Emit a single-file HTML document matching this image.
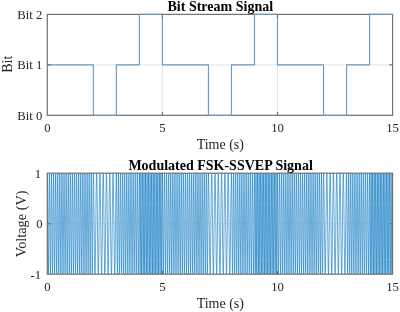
<!DOCTYPE html>
<html><head><meta charset="utf-8"><style>
html,body{margin:0;padding:0;background:#fff;}
body{width:400px;height:312px;position:relative;overflow:hidden;}
svg{position:absolute;left:0;top:0;display:block;}
</style></head><body>
<svg width="400" height="312" viewBox="0 0 400 312" font-family="Liberation Serif, serif">
<g>
<rect width="400" height="312" fill="#fff"/>
<line x1="162.40" y1="14.4" x2="162.40" y2="115.3" stroke="#e0e0e0" stroke-width="0.8"/>
<line x1="277.50" y1="14.4" x2="277.50" y2="115.3" stroke="#e0e0e0" stroke-width="0.8"/>
<line x1="47.3" y1="64.85" x2="392.6" y2="64.85" stroke="#e0e0e0" stroke-width="0.8"/>
<line x1="162.40" y1="173.2" x2="162.40" y2="274.2" stroke="#ececec" stroke-width="0.8"/>
<line x1="277.50" y1="173.2" x2="277.50" y2="274.2" stroke="#ececec" stroke-width="0.8"/>
<line x1="47.3" y1="223.70" x2="392.6" y2="223.70" stroke="#ececec" stroke-width="0.8"/>
<rect x="47.3" y="14.4" width="345.30" height="100.90" fill="none" stroke="#707070" stroke-width="1.2"/>
<path d="M47.30,64.85 L93.34,64.85 L93.34,115.30 L116.36,115.30 L116.36,64.85 L139.38,64.85 L139.38,14.40 L162.40,14.40 L162.40,64.85 L208.44,64.85 L208.44,115.30 L231.46,115.30 L231.46,64.85 L254.48,64.85 L254.48,14.40 L277.50,14.40 L277.50,64.85 L323.54,64.85 L323.54,115.30 L346.56,115.30 L346.56,64.85 L369.58,64.85 L369.58,14.40 L392.60,14.40" fill="none" stroke="#6c9ac4" stroke-width="1.15"/>
<path d="M47.30,173.20 47.40,175.28 47.49,181.35 47.59,190.90 47.68,203.16 47.78,217.11 47.88,231.60 47.97,245.44 48.07,257.49 48.16,266.76 48.26,272.48 48.36,274.18 48.45,271.73 48.55,265.32 48.64,255.48 48.74,243.03 48.83,228.98 48.93,214.50 49.03,200.77 49.12,188.94 49.22,179.97 49.31,174.60 49.41,173.27 49.51,176.10 49.60,182.84 49.70,192.96 49.79,205.60 49.89,219.74 49.99,234.20 50.08,247.80 50.18,259.41 50.27,268.08 50.37,273.10 50.47,274.04 50.56,270.85 50.66,263.76 50.75,253.38 50.85,240.56 50.94,226.34 51.04,211.91 51.14,198.45 51.23,187.07 51.33,178.70 51.42,174.05 51.52,173.48 51.62,177.04 51.71,184.45 51.81,195.10 51.90,208.09 52.00,222.38 52.10,236.77 52.19,250.09 52.29,261.23 52.38,269.28 52.48,273.58 52.58,273.77 52.67,269.83 52.77,262.10 52.86,251.20 52.96,238.04 53.05,223.70 53.15,209.36 53.25,196.20 53.34,185.30 53.44,177.57 53.53,173.63 53.63,173.82 53.73,178.12 53.82,186.17 53.92,197.31 54.01,210.63 54.11,225.02 54.21,239.31 54.30,252.30 54.40,262.95 54.49,270.36 54.59,273.92 54.69,273.35 54.78,268.70 54.88,260.33 54.97,248.95 55.07,235.49 55.17,221.06 55.26,206.84 55.36,194.02 55.45,183.64 55.55,176.55 55.64,173.36 55.74,174.30 55.84,179.32 55.93,187.99 56.03,199.60 56.12,213.20 56.22,227.66 56.32,241.80 56.41,254.44 56.51,264.56 56.60,271.30 56.70,274.13 56.80,272.80 56.89,267.43 56.99,258.46 57.08,246.63 57.18,232.90 57.28,218.42 57.37,204.37 57.47,191.92 57.56,182.08 57.66,175.67 57.75,173.22 57.85,174.92 57.95,180.64 58.04,189.91 58.14,201.96 58.23,215.80 58.33,230.29 58.43,244.24 58.52,256.50 58.62,266.05 58.71,272.12 58.81,274.20 58.91,272.12 59.00,266.05 59.10,256.50 59.19,244.24 59.29,230.29 59.39,215.80 59.48,201.96 59.58,189.91 59.67,180.64 59.77,174.92 59.87,173.22 59.96,175.67 60.06,182.08 60.15,191.92 60.25,204.37 60.34,218.42 60.44,232.90 60.54,246.63 60.63,258.46 60.73,267.43 60.82,272.80 60.92,274.13 61.02,271.30 61.11,264.56 61.21,254.44 61.30,241.80 61.40,227.66 61.50,213.20 61.59,199.60 61.69,187.99 61.78,179.32 61.88,174.30 61.98,173.36 62.07,176.55 62.17,183.64 62.26,194.02 62.36,206.84 62.45,221.06 62.55,235.49 62.65,248.95 62.74,260.33 62.84,268.70 62.93,273.35 63.03,273.92 63.13,270.36 63.22,262.95 63.32,252.30 63.41,239.31 63.51,225.02 63.61,210.63 63.70,197.31 63.80,186.17 63.89,178.12 63.99,173.82 64.09,173.63 64.18,177.57 64.28,185.30 64.37,196.20 64.47,209.36 64.56,223.70 64.66,238.04 64.76,251.20 64.85,262.10 64.95,269.83 65.04,273.77 65.14,273.58 65.24,269.28 65.33,261.23 65.43,250.09 65.52,236.77 65.62,222.38 65.72,208.09 65.81,195.10 65.91,184.45 66.00,177.04 66.10,173.48 66.20,174.05 66.29,178.70 66.39,187.07 66.48,198.45 66.58,211.91 66.68,226.34 66.77,240.56 66.87,253.38 66.96,263.76 67.06,270.85 67.15,274.04 67.25,273.10 67.35,268.08 67.44,259.41 67.54,247.80 67.63,234.20 67.73,219.74 67.83,205.60 67.92,192.96 68.02,182.84 68.11,176.10 68.21,173.27 68.31,174.60 68.40,179.97 68.50,188.94 68.59,200.77 68.69,214.50 68.79,228.98 68.88,243.03 68.98,255.48 69.07,265.32 69.17,271.73 69.26,274.18 69.36,272.48 69.46,266.76 69.55,257.49 69.65,245.44 69.74,231.60 69.84,217.11 69.94,203.16 70.03,190.90 70.13,181.35 70.22,175.28 70.32,173.20 70.42,175.28 70.51,181.35 70.61,190.90 70.70,203.16 70.80,217.11 70.90,231.60 70.99,245.44 71.09,257.49 71.18,266.76 71.28,272.48 71.38,274.18 71.47,271.73 71.57,265.32 71.66,255.48 71.76,243.03 71.85,228.98 71.95,214.50 72.05,200.77 72.14,188.94 72.24,179.97 72.33,174.60 72.43,173.27 72.53,176.10 72.62,182.84 72.72,192.96 72.81,205.60 72.91,219.74 73.01,234.20 73.10,247.80 73.20,259.41 73.29,268.08 73.39,273.10 73.49,274.04 73.58,270.85 73.68,263.76 73.77,253.38 73.87,240.56 73.96,226.34 74.06,211.91 74.16,198.45 74.25,187.07 74.35,178.70 74.44,174.05 74.54,173.48 74.64,177.04 74.73,184.45 74.83,195.10 74.92,208.09 75.02,222.38 75.12,236.77 75.21,250.09 75.31,261.23 75.40,269.28 75.50,273.58 75.60,273.77 75.69,269.83 75.79,262.10 75.88,251.20 75.98,238.04 76.07,223.70 76.17,209.36 76.27,196.20 76.36,185.30 76.46,177.57 76.55,173.63 76.65,173.82 76.75,178.12 76.84,186.17 76.94,197.31 77.03,210.63 77.13,225.02 77.23,239.31 77.32,252.30 77.42,262.95 77.51,270.36 77.61,273.92 77.71,273.35 77.80,268.70 77.90,260.33 77.99,248.95 78.09,235.49 78.19,221.06 78.28,206.84 78.38,194.02 78.47,183.64 78.57,176.55 78.66,173.36 78.76,174.30 78.86,179.32 78.95,187.99 79.05,199.60 79.14,213.20 79.24,227.66 79.34,241.80 79.43,254.44 79.53,264.56 79.62,271.30 79.72,274.13 79.82,272.80 79.91,267.43 80.01,258.46 80.10,246.63 80.20,232.90 80.30,218.42 80.39,204.37 80.49,191.92 80.58,182.08 80.68,175.67 80.77,173.22 80.87,174.92 80.97,180.64 81.06,189.91 81.16,201.96 81.25,215.80 81.35,230.29 81.45,244.24 81.54,256.50 81.64,266.05 81.73,272.12 81.83,274.20 81.93,272.12 82.02,266.05 82.12,256.50 82.21,244.24 82.31,230.29 82.41,215.80 82.50,201.96 82.60,189.91 82.69,180.64 82.79,174.92 82.89,173.22 82.98,175.67 83.08,182.08 83.17,191.92 83.27,204.37 83.36,218.42 83.46,232.90 83.56,246.63 83.65,258.46 83.75,267.43 83.84,272.80 83.94,274.13 84.04,271.30 84.13,264.56 84.23,254.44 84.32,241.80 84.42,227.66 84.52,213.20 84.61,199.60 84.71,187.99 84.80,179.32 84.90,174.30 85.00,173.36 85.09,176.55 85.19,183.64 85.28,194.02 85.38,206.84 85.47,221.06 85.57,235.49 85.67,248.95 85.76,260.33 85.86,268.70 85.95,273.35 86.05,273.92 86.15,270.36 86.24,262.95 86.34,252.30 86.43,239.31 86.53,225.02 86.63,210.63 86.72,197.31 86.82,186.17 86.91,178.12 87.01,173.82 87.11,173.63 87.20,177.57 87.30,185.30 87.39,196.20 87.49,209.36 87.58,223.70 87.68,238.04 87.78,251.20 87.87,262.10 87.97,269.83 88.06,273.77 88.16,273.58 88.26,269.28 88.35,261.23 88.45,250.09 88.54,236.77 88.64,222.38 88.74,208.09 88.83,195.10 88.93,184.45 89.02,177.04 89.12,173.48 89.22,174.05 89.31,178.70 89.41,187.07 89.50,198.45 89.60,211.91 89.70,226.34 89.79,240.56 89.89,253.38 89.98,263.76 90.08,270.85 90.17,274.04 90.27,273.10 90.37,268.08 90.46,259.41 90.56,247.80 90.65,234.20 90.75,219.74 90.85,205.60 90.94,192.96 91.04,182.84 91.13,176.10 91.23,173.27 91.33,174.60 91.42,179.97 91.52,188.94 91.61,200.77 91.71,214.50 91.81,228.98 91.90,243.03 92.00,255.48 92.09,265.32 92.19,271.73 92.28,274.18 92.38,272.48 92.48,266.76 92.57,257.49 92.67,245.44 92.76,231.60 92.86,217.11 92.96,203.16 93.05,190.90 93.15,181.35 93.24,175.28 93.34,173.20 93.44,174.05 93.53,176.55 93.63,180.64 93.72,186.17 93.82,192.96 93.92,200.77 94.01,209.36 94.11,218.42 94.20,227.66 94.30,236.77 94.40,245.44 94.49,253.38 94.59,260.33 94.68,266.05 94.78,270.36 94.87,273.10 94.97,274.18 95.07,273.58 95.16,271.30 95.26,267.43 95.35,262.10 95.45,255.48 95.55,247.80 95.64,239.31 95.74,230.29 95.83,221.06 95.93,211.91 96.03,203.16 96.12,195.10 96.22,187.99 96.31,182.08 96.41,177.57 96.51,174.60 96.60,173.27 96.70,173.63 96.79,175.67 96.89,179.32 96.98,184.45 97.08,190.90 97.18,198.45 97.27,206.84 97.37,215.80 97.46,225.02 97.56,234.20 97.66,243.03 97.75,251.20 97.85,258.46 97.94,264.56 98.04,269.28 98.14,272.48 98.23,274.04 98.33,273.92 98.42,272.12 98.52,268.70 98.62,263.76 98.71,257.49 98.81,250.09 98.90,241.80 99.00,232.90 99.09,223.70 99.19,214.50 99.29,205.60 99.38,197.31 99.48,189.91 99.57,183.64 99.67,178.70 99.77,175.28 99.86,173.48 99.96,173.36 100.05,174.92 100.15,178.12 100.25,182.84 100.34,188.94 100.44,196.20 100.53,204.37 100.63,213.20 100.73,222.38 100.82,231.60 100.92,240.56 101.01,248.95 101.11,256.50 101.21,262.95 101.30,268.08 101.40,271.73 101.49,273.77 101.59,274.13 101.68,272.80 101.78,269.83 101.88,265.32 101.97,259.41 102.07,252.30 102.16,244.24 102.26,235.49 102.36,226.34 102.45,217.11 102.55,208.09 102.64,199.60 102.74,191.92 102.84,185.30 102.93,179.97 103.03,176.10 103.12,173.82 103.22,173.22 103.32,174.30 103.41,177.04 103.51,181.35 103.60,187.07 103.70,194.02 103.79,201.96 103.89,210.63 103.99,219.74 104.08,228.98 104.18,238.04 104.27,246.63 104.37,254.44 104.47,261.23 104.56,266.76 104.66,270.85 104.75,273.35 104.85,274.20 104.95,273.35 105.04,270.85 105.14,266.76 105.23,261.23 105.33,254.44 105.43,246.63 105.52,238.04 105.62,228.98 105.71,219.74 105.81,210.63 105.91,201.96 106.00,194.02 106.10,187.07 106.19,181.35 106.29,177.04 106.38,174.30 106.48,173.22 106.58,173.82 106.67,176.10 106.77,179.97 106.86,185.30 106.96,191.92 107.06,199.60 107.15,208.09 107.25,217.11 107.34,226.34 107.44,235.49 107.54,244.24 107.63,252.30 107.73,259.41 107.82,265.32 107.92,269.83 108.02,272.80 108.11,274.13 108.21,273.77 108.30,271.73 108.40,268.08 108.49,262.95 108.59,256.50 108.69,248.95 108.78,240.56 108.88,231.60 108.97,222.38 109.07,213.20 109.17,204.37 109.26,196.20 109.36,188.94 109.45,182.84 109.55,178.12 109.65,174.92 109.74,173.36 109.84,173.48 109.93,175.28 110.03,178.70 110.13,183.64 110.22,189.91 110.32,197.31 110.41,205.60 110.51,214.50 110.60,223.70 110.70,232.90 110.80,241.80 110.89,250.09 110.99,257.49 111.08,263.76 111.18,268.70 111.28,272.12 111.37,273.92 111.47,274.04 111.56,272.48 111.66,269.28 111.76,264.56 111.85,258.46 111.95,251.20 112.04,243.03 112.14,234.20 112.24,225.02 112.33,215.80 112.43,206.84 112.52,198.45 112.62,190.90 112.72,184.45 112.81,179.32 112.91,175.67 113.00,173.63 113.10,173.27 113.19,174.60 113.29,177.57 113.39,182.08 113.48,187.99 113.58,195.10 113.67,203.16 113.77,211.91 113.87,221.06 113.96,230.29 114.06,239.31 114.15,247.80 114.25,255.48 114.35,262.10 114.44,267.43 114.54,271.30 114.63,273.58 114.73,274.18 114.83,273.10 114.92,270.36 115.02,266.05 115.11,260.33 115.21,253.38 115.30,245.44 115.40,236.77 115.50,227.66 115.59,218.42 115.69,209.36 115.78,200.77 115.88,192.96 115.98,186.17 116.07,180.64 116.17,176.55 116.26,174.05 116.36,173.20 116.46,175.28 116.55,181.35 116.65,190.90 116.74,203.16 116.84,217.11 116.94,231.60 117.03,245.44 117.13,257.49 117.22,266.76 117.32,272.48 117.42,274.18 117.51,271.73 117.61,265.32 117.70,255.48 117.80,243.03 117.89,228.98 117.99,214.50 118.09,200.77 118.18,188.94 118.28,179.97 118.37,174.60 118.47,173.27 118.57,176.10 118.66,182.84 118.76,192.96 118.85,205.60 118.95,219.74 119.05,234.20 119.14,247.80 119.24,259.41 119.33,268.08 119.43,273.10 119.53,274.04 119.62,270.85 119.72,263.76 119.81,253.38 119.91,240.56 120.00,226.34 120.10,211.91 120.20,198.45 120.29,187.07 120.39,178.70 120.48,174.05 120.58,173.48 120.68,177.04 120.77,184.45 120.87,195.10 120.96,208.09 121.06,222.38 121.16,236.77 121.25,250.09 121.35,261.23 121.44,269.28 121.54,273.58 121.64,273.77 121.73,269.83 121.83,262.10 121.92,251.20 122.02,238.04 122.12,223.70 122.21,209.36 122.31,196.20 122.40,185.30 122.50,177.57 122.59,173.63 122.69,173.82 122.79,178.12 122.88,186.17 122.98,197.31 123.07,210.63 123.17,225.02 123.27,239.31 123.36,252.30 123.46,262.95 123.55,270.36 123.65,273.92 123.75,273.35 123.84,268.70 123.94,260.33 124.03,248.95 124.13,235.49 124.23,221.06 124.32,206.84 124.42,194.02 124.51,183.64 124.61,176.55 124.70,173.36 124.80,174.30 124.90,179.32 124.99,187.99 125.09,199.60 125.18,213.20 125.28,227.66 125.38,241.80 125.47,254.44 125.57,264.56 125.66,271.30 125.76,274.13 125.86,272.80 125.95,267.43 126.05,258.46 126.14,246.63 126.24,232.90 126.34,218.42 126.43,204.37 126.53,191.92 126.62,182.08 126.72,175.67 126.81,173.22 126.91,174.92 127.01,180.64 127.10,189.91 127.20,201.96 127.29,215.80 127.39,230.29 127.49,244.24 127.58,256.50 127.68,266.05 127.77,272.12 127.87,274.20 127.97,272.12 128.06,266.05 128.16,256.50 128.25,244.24 128.35,230.29 128.45,215.80 128.54,201.96 128.64,189.91 128.73,180.64 128.83,174.92 128.93,173.22 129.02,175.67 129.12,182.08 129.21,191.92 129.31,204.37 129.40,218.42 129.50,232.90 129.60,246.63 129.69,258.46 129.79,267.43 129.88,272.80 129.98,274.13 130.08,271.30 130.17,264.56 130.27,254.44 130.36,241.80 130.46,227.66 130.56,213.20 130.65,199.60 130.75,187.99 130.84,179.32 130.94,174.30 131.04,173.36 131.13,176.55 131.23,183.64 131.32,194.02 131.42,206.84 131.51,221.06 131.61,235.49 131.71,248.95 131.80,260.33 131.90,268.70 131.99,273.35 132.09,273.92 132.19,270.36 132.28,262.95 132.38,252.30 132.47,239.31 132.57,225.02 132.67,210.63 132.76,197.31 132.86,186.17 132.95,178.12 133.05,173.82 133.15,173.63 133.24,177.57 133.34,185.30 133.43,196.20 133.53,209.36 133.62,223.70 133.72,238.04 133.82,251.20 133.91,262.10 134.01,269.83 134.10,273.77 134.20,273.58 134.30,269.28 134.39,261.23 134.49,250.09 134.58,236.77 134.68,222.38 134.78,208.09 134.87,195.10 134.97,184.45 135.06,177.04 135.16,173.48 135.26,174.05 135.35,178.70 135.45,187.07 135.54,198.45 135.64,211.91 135.74,226.34 135.83,240.56 135.93,253.38 136.02,263.76 136.12,270.85 136.21,274.04 136.31,273.10 136.41,268.08 136.50,259.41 136.60,247.80 136.69,234.20 136.79,219.74 136.89,205.60 136.98,192.96 137.08,182.84 137.17,176.10 137.27,173.27 137.37,174.60 137.46,179.97 137.56,188.94 137.65,200.77 137.75,214.50 137.85,228.98 137.94,243.03 138.04,255.48 138.13,265.32 138.23,271.73 138.32,274.18 138.42,272.48 138.52,266.76 138.61,257.49 138.71,245.44 138.80,231.60 138.90,217.11 139.00,203.16 139.09,190.90 139.19,181.35 139.28,175.28 139.38,173.20 139.48,177.04 139.57,187.99 139.67,204.37 139.76,223.70 139.86,243.03 139.96,259.41 140.05,270.36 140.15,274.20 140.24,270.36 140.34,259.41 140.44,243.03 140.53,223.70 140.63,204.37 140.72,187.99 140.82,177.04 140.91,173.20 141.01,177.04 141.11,187.99 141.20,204.37 141.30,223.70 141.39,243.03 141.49,259.41 141.59,270.36 141.68,274.20 141.78,270.36 141.87,259.41 141.97,243.03 142.07,223.70 142.16,204.37 142.26,187.99 142.35,177.04 142.45,173.20 142.55,177.04 142.64,187.99 142.74,204.37 142.83,223.70 142.93,243.03 143.02,259.41 143.12,270.36 143.22,274.20 143.31,270.36 143.41,259.41 143.50,243.03 143.60,223.70 143.70,204.37 143.79,187.99 143.89,177.04 143.98,173.20 144.08,177.04 144.18,187.99 144.27,204.37 144.37,223.70 144.46,243.03 144.56,259.41 144.66,270.36 144.75,274.20 144.85,270.36 144.94,259.41 145.04,243.03 145.13,223.70 145.23,204.37 145.33,187.99 145.42,177.04 145.52,173.20 145.61,177.04 145.71,187.99 145.81,204.37 145.90,223.70 146.00,243.03 146.09,259.41 146.19,270.36 146.29,274.20 146.38,270.36 146.48,259.41 146.57,243.03 146.67,223.70 146.77,204.37 146.86,187.99 146.96,177.04 147.05,173.20 147.15,177.04 147.25,187.99 147.34,204.37 147.44,223.70 147.53,243.03 147.63,259.41 147.72,270.36 147.82,274.20 147.92,270.36 148.01,259.41 148.11,243.03 148.20,223.70 148.30,204.37 148.40,187.99 148.49,177.04 148.59,173.20 148.68,177.04 148.78,187.99 148.88,204.37 148.97,223.70 149.07,243.03 149.16,259.41 149.26,270.36 149.36,274.20 149.45,270.36 149.55,259.41 149.64,243.03 149.74,223.70 149.83,204.37 149.93,187.99 150.03,177.04 150.12,173.20 150.22,177.04 150.31,187.99 150.41,204.37 150.51,223.70 150.60,243.03 150.70,259.41 150.79,270.36 150.89,274.20 150.99,270.36 151.08,259.41 151.18,243.03 151.27,223.70 151.37,204.37 151.47,187.99 151.56,177.04 151.66,173.20 151.75,177.04 151.85,187.99 151.95,204.37 152.04,223.70 152.14,243.03 152.23,259.41 152.33,270.36 152.42,274.20 152.52,270.36 152.62,259.41 152.71,243.03 152.81,223.70 152.90,204.37 153.00,187.99 153.10,177.04 153.19,173.20 153.29,177.04 153.38,187.99 153.48,204.37 153.58,223.70 153.67,243.03 153.77,259.41 153.86,270.36 153.96,274.20 154.06,270.36 154.15,259.41 154.25,243.03 154.34,223.70 154.44,204.37 154.53,187.99 154.63,177.04 154.73,173.20 154.82,177.04 154.92,187.99 155.01,204.37 155.11,223.70 155.21,243.03 155.30,259.41 155.40,270.36 155.49,274.20 155.59,270.36 155.69,259.41 155.78,243.03 155.88,223.70 155.97,204.37 156.07,187.99 156.17,177.04 156.26,173.20 156.36,177.04 156.45,187.99 156.55,204.37 156.64,223.70 156.74,243.03 156.84,259.41 156.93,270.36 157.03,274.20 157.12,270.36 157.22,259.41 157.32,243.03 157.41,223.70 157.51,204.37 157.60,187.99 157.70,177.04 157.80,173.20 157.89,177.04 157.99,187.99 158.08,204.37 158.18,223.70 158.28,243.03 158.37,259.41 158.47,270.36 158.56,274.20 158.66,270.36 158.76,259.41 158.85,243.03 158.95,223.70 159.04,204.37 159.14,187.99 159.23,177.04 159.33,173.20 159.43,177.04 159.52,187.99 159.62,204.37 159.71,223.70 159.81,243.03 159.91,259.41 160.00,270.36 160.10,274.20 160.19,270.36 160.29,259.41 160.39,243.03 160.48,223.70 160.58,204.37 160.67,187.99 160.77,177.04 160.87,173.20 160.96,177.04 161.06,187.99 161.15,204.37 161.25,223.70 161.34,243.03 161.44,259.41 161.54,270.36 161.63,274.20 161.73,270.36 161.82,259.41 161.92,243.03 162.02,223.70 162.11,204.37 162.21,187.99 162.30,177.04 162.40,173.20 162.50,175.28 162.59,181.35 162.69,190.90 162.78,203.16 162.88,217.11 162.98,231.60 163.07,245.44 163.17,257.49 163.26,266.76 163.36,272.48 163.46,274.18 163.55,271.73 163.65,265.32 163.74,255.48 163.84,243.03 163.93,228.98 164.03,214.50 164.13,200.77 164.22,188.94 164.32,179.97 164.41,174.60 164.51,173.27 164.61,176.10 164.70,182.84 164.80,192.96 164.89,205.60 164.99,219.74 165.09,234.20 165.18,247.80 165.28,259.41 165.37,268.08 165.47,273.10 165.57,274.04 165.66,270.85 165.76,263.76 165.85,253.38 165.95,240.56 166.04,226.34 166.14,211.91 166.24,198.45 166.33,187.07 166.43,178.70 166.52,174.05 166.62,173.48 166.72,177.04 166.81,184.45 166.91,195.10 167.00,208.09 167.10,222.38 167.20,236.77 167.29,250.09 167.39,261.23 167.48,269.28 167.58,273.58 167.68,273.77 167.77,269.83 167.87,262.10 167.96,251.20 168.06,238.04 168.16,223.70 168.25,209.36 168.35,196.20 168.44,185.30 168.54,177.57 168.63,173.63 168.73,173.82 168.83,178.12 168.92,186.17 169.02,197.31 169.11,210.63 169.21,225.02 169.31,239.31 169.40,252.30 169.50,262.95 169.59,270.36 169.69,273.92 169.79,273.35 169.88,268.70 169.98,260.33 170.07,248.95 170.17,235.49 170.27,221.06 170.36,206.84 170.46,194.02 170.55,183.64 170.65,176.55 170.74,173.36 170.84,174.30 170.94,179.32 171.03,187.99 171.13,199.60 171.22,213.20 171.32,227.66 171.42,241.80 171.51,254.44 171.61,264.56 171.70,271.30 171.80,274.13 171.90,272.80 171.99,267.43 172.09,258.46 172.18,246.63 172.28,232.90 172.38,218.42 172.47,204.37 172.57,191.92 172.66,182.08 172.76,175.67 172.85,173.22 172.95,174.92 173.05,180.64 173.14,189.91 173.24,201.96 173.33,215.80 173.43,230.29 173.53,244.24 173.62,256.50 173.72,266.05 173.81,272.12 173.91,274.20 174.01,272.12 174.10,266.05 174.20,256.50 174.29,244.24 174.39,230.29 174.49,215.80 174.58,201.96 174.68,189.91 174.77,180.64 174.87,174.92 174.97,173.22 175.06,175.67 175.16,182.08 175.25,191.92 175.35,204.37 175.44,218.42 175.54,232.90 175.64,246.63 175.73,258.46 175.83,267.43 175.92,272.80 176.02,274.13 176.12,271.30 176.21,264.56 176.31,254.44 176.40,241.80 176.50,227.66 176.60,213.20 176.69,199.60 176.79,187.99 176.88,179.32 176.98,174.30 177.08,173.36 177.17,176.55 177.27,183.64 177.36,194.02 177.46,206.84 177.55,221.06 177.65,235.49 177.75,248.95 177.84,260.33 177.94,268.70 178.03,273.35 178.13,273.92 178.23,270.36 178.32,262.95 178.42,252.30 178.51,239.31 178.61,225.02 178.71,210.63 178.80,197.31 178.90,186.17 178.99,178.12 179.09,173.82 179.19,173.63 179.28,177.57 179.38,185.30 179.47,196.20 179.57,209.36 179.67,223.70 179.76,238.04 179.86,251.20 179.95,262.10 180.05,269.83 180.14,273.77 180.24,273.58 180.34,269.28 180.43,261.23 180.53,250.09 180.62,236.77 180.72,222.38 180.82,208.09 180.91,195.10 181.01,184.45 181.10,177.04 181.20,173.48 181.30,174.05 181.39,178.70 181.49,187.07 181.58,198.45 181.68,211.91 181.78,226.34 181.87,240.56 181.97,253.38 182.06,263.76 182.16,270.85 182.25,274.04 182.35,273.10 182.45,268.08 182.54,259.41 182.64,247.80 182.73,234.20 182.83,219.74 182.93,205.60 183.02,192.96 183.12,182.84 183.21,176.10 183.31,173.27 183.41,174.60 183.50,179.97 183.60,188.94 183.69,200.77 183.79,214.50 183.89,228.98 183.98,243.03 184.08,255.48 184.17,265.32 184.27,271.73 184.36,274.18 184.46,272.48 184.56,266.76 184.65,257.49 184.75,245.44 184.84,231.60 184.94,217.11 185.04,203.16 185.13,190.90 185.23,181.35 185.32,175.28 185.42,173.20 185.52,175.28 185.61,181.35 185.71,190.90 185.80,203.16 185.90,217.11 186.00,231.60 186.09,245.44 186.19,257.49 186.28,266.76 186.38,272.48 186.48,274.18 186.57,271.73 186.67,265.32 186.76,255.48 186.86,243.03 186.95,228.98 187.05,214.50 187.15,200.77 187.24,188.94 187.34,179.97 187.43,174.60 187.53,173.27 187.63,176.10 187.72,182.84 187.82,192.96 187.91,205.60 188.01,219.74 188.11,234.20 188.20,247.80 188.30,259.41 188.39,268.08 188.49,273.10 188.59,274.04 188.68,270.85 188.78,263.76 188.87,253.38 188.97,240.56 189.06,226.34 189.16,211.91 189.26,198.45 189.35,187.07 189.45,178.70 189.54,174.05 189.64,173.48 189.74,177.04 189.83,184.45 189.93,195.10 190.02,208.09 190.12,222.38 190.22,236.77 190.31,250.09 190.41,261.23 190.50,269.28 190.60,273.58 190.70,273.77 190.79,269.83 190.89,262.10 190.98,251.20 191.08,238.04 191.18,223.70 191.27,209.36 191.37,196.20 191.46,185.30 191.56,177.57 191.65,173.63 191.75,173.82 191.85,178.12 191.94,186.17 192.04,197.31 192.13,210.63 192.23,225.02 192.33,239.31 192.42,252.30 192.52,262.95 192.61,270.36 192.71,273.92 192.81,273.35 192.90,268.70 193.00,260.33 193.09,248.95 193.19,235.49 193.29,221.06 193.38,206.84 193.48,194.02 193.57,183.64 193.67,176.55 193.76,173.36 193.86,174.30 193.96,179.32 194.05,187.99 194.15,199.60 194.24,213.20 194.34,227.66 194.44,241.80 194.53,254.44 194.63,264.56 194.72,271.30 194.82,274.13 194.92,272.80 195.01,267.43 195.11,258.46 195.20,246.63 195.30,232.90 195.40,218.42 195.49,204.37 195.59,191.92 195.68,182.08 195.78,175.67 195.87,173.22 195.97,174.92 196.07,180.64 196.16,189.91 196.26,201.96 196.35,215.80 196.45,230.29 196.55,244.24 196.64,256.50 196.74,266.05 196.83,272.12 196.93,274.20 197.03,272.12 197.12,266.05 197.22,256.50 197.31,244.24 197.41,230.29 197.51,215.80 197.60,201.96 197.70,189.91 197.79,180.64 197.89,174.92 197.99,173.22 198.08,175.67 198.18,182.08 198.27,191.92 198.37,204.37 198.46,218.42 198.56,232.90 198.66,246.63 198.75,258.46 198.85,267.43 198.94,272.80 199.04,274.13 199.14,271.30 199.23,264.56 199.33,254.44 199.42,241.80 199.52,227.66 199.62,213.20 199.71,199.60 199.81,187.99 199.90,179.32 200.00,174.30 200.10,173.36 200.19,176.55 200.29,183.64 200.38,194.02 200.48,206.84 200.57,221.06 200.67,235.49 200.77,248.95 200.86,260.33 200.96,268.70 201.05,273.35 201.15,273.92 201.25,270.36 201.34,262.95 201.44,252.30 201.53,239.31 201.63,225.02 201.73,210.63 201.82,197.31 201.92,186.17 202.01,178.12 202.11,173.82 202.21,173.63 202.30,177.57 202.40,185.30 202.49,196.20 202.59,209.36 202.69,223.70 202.78,238.04 202.88,251.20 202.97,262.10 203.07,269.83 203.16,273.77 203.26,273.58 203.36,269.28 203.45,261.23 203.55,250.09 203.64,236.77 203.74,222.38 203.84,208.09 203.93,195.10 204.03,184.45 204.12,177.04 204.22,173.48 204.32,174.05 204.41,178.70 204.51,187.07 204.60,198.45 204.70,211.91 204.80,226.34 204.89,240.56 204.99,253.38 205.08,263.76 205.18,270.85 205.27,274.04 205.37,273.10 205.47,268.08 205.56,259.41 205.66,247.80 205.75,234.20 205.85,219.74 205.95,205.60 206.04,192.96 206.14,182.84 206.23,176.10 206.33,173.27 206.43,174.60 206.52,179.97 206.62,188.94 206.71,200.77 206.81,214.50 206.91,228.98 207.00,243.03 207.10,255.48 207.19,265.32 207.29,271.73 207.38,274.18 207.48,272.48 207.58,266.76 207.67,257.49 207.77,245.44 207.86,231.60 207.96,217.11 208.06,203.16 208.15,190.90 208.25,181.35 208.34,175.28 208.44,173.20 208.54,174.05 208.63,176.55 208.73,180.64 208.82,186.17 208.92,192.96 209.02,200.77 209.11,209.36 209.21,218.42 209.30,227.66 209.40,236.77 209.50,245.44 209.59,253.38 209.69,260.33 209.78,266.05 209.88,270.36 209.97,273.10 210.07,274.18 210.17,273.58 210.26,271.30 210.36,267.43 210.45,262.10 210.55,255.48 210.65,247.80 210.74,239.31 210.84,230.29 210.93,221.06 211.03,211.91 211.13,203.16 211.22,195.10 211.32,187.99 211.41,182.08 211.51,177.57 211.61,174.60 211.70,173.27 211.80,173.63 211.89,175.67 211.99,179.32 212.08,184.45 212.18,190.90 212.28,198.45 212.37,206.84 212.47,215.80 212.56,225.02 212.66,234.20 212.76,243.03 212.85,251.20 212.95,258.46 213.04,264.56 213.14,269.28 213.24,272.48 213.33,274.04 213.43,273.92 213.52,272.12 213.62,268.70 213.72,263.76 213.81,257.49 213.91,250.09 214.00,241.80 214.10,232.90 214.19,223.70 214.29,214.50 214.39,205.60 214.48,197.31 214.58,189.91 214.67,183.64 214.77,178.70 214.87,175.28 214.96,173.48 215.06,173.36 215.15,174.92 215.25,178.12 215.35,182.84 215.44,188.94 215.54,196.20 215.63,204.37 215.73,213.20 215.83,222.38 215.92,231.60 216.02,240.56 216.11,248.95 216.21,256.50 216.31,262.95 216.40,268.08 216.50,271.73 216.59,273.77 216.69,274.13 216.78,272.80 216.88,269.83 216.98,265.32 217.07,259.41 217.17,252.30 217.26,244.24 217.36,235.49 217.46,226.34 217.55,217.11 217.65,208.09 217.74,199.60 217.84,191.92 217.94,185.30 218.03,179.97 218.13,176.10 218.22,173.82 218.32,173.22 218.42,174.30 218.51,177.04 218.61,181.35 218.70,187.07 218.80,194.02 218.89,201.96 218.99,210.63 219.09,219.74 219.18,228.98 219.28,238.04 219.37,246.63 219.47,254.44 219.57,261.23 219.66,266.76 219.76,270.85 219.85,273.35 219.95,274.20 220.05,273.35 220.14,270.85 220.24,266.76 220.33,261.23 220.43,254.44 220.53,246.63 220.62,238.04 220.72,228.98 220.81,219.74 220.91,210.63 221.01,201.96 221.10,194.02 221.20,187.07 221.29,181.35 221.39,177.04 221.48,174.30 221.58,173.22 221.68,173.82 221.77,176.10 221.87,179.97 221.96,185.30 222.06,191.92 222.16,199.60 222.25,208.09 222.35,217.11 222.44,226.34 222.54,235.49 222.64,244.24 222.73,252.30 222.83,259.41 222.92,265.32 223.02,269.83 223.12,272.80 223.21,274.13 223.31,273.77 223.40,271.73 223.50,268.08 223.59,262.95 223.69,256.50 223.79,248.95 223.88,240.56 223.98,231.60 224.07,222.38 224.17,213.20 224.27,204.37 224.36,196.20 224.46,188.94 224.55,182.84 224.65,178.12 224.75,174.92 224.84,173.36 224.94,173.48 225.03,175.28 225.13,178.70 225.23,183.64 225.32,189.91 225.42,197.31 225.51,205.60 225.61,214.50 225.71,223.70 225.80,232.90 225.90,241.80 225.99,250.09 226.09,257.49 226.18,263.76 226.28,268.70 226.38,272.12 226.47,273.92 226.57,274.04 226.66,272.48 226.76,269.28 226.86,264.56 226.95,258.46 227.05,251.20 227.14,243.03 227.24,234.20 227.34,225.02 227.43,215.80 227.53,206.84 227.62,198.45 227.72,190.90 227.82,184.45 227.91,179.32 228.01,175.67 228.10,173.63 228.20,173.27 228.29,174.60 228.39,177.57 228.49,182.08 228.58,187.99 228.68,195.10 228.77,203.16 228.87,211.91 228.97,221.06 229.06,230.29 229.16,239.31 229.25,247.80 229.35,255.48 229.45,262.10 229.54,267.43 229.64,271.30 229.73,273.58 229.83,274.18 229.93,273.10 230.02,270.36 230.12,266.05 230.21,260.33 230.31,253.38 230.40,245.44 230.50,236.77 230.60,227.66 230.69,218.42 230.79,209.36 230.88,200.77 230.98,192.96 231.08,186.17 231.17,180.64 231.27,176.55 231.36,174.05 231.46,173.20 231.56,175.28 231.65,181.35 231.75,190.90 231.84,203.16 231.94,217.11 232.04,231.60 232.13,245.44 232.23,257.49 232.32,266.76 232.42,272.48 232.52,274.18 232.61,271.73 232.71,265.32 232.80,255.48 232.90,243.03 232.99,228.98 233.09,214.50 233.19,200.77 233.28,188.94 233.38,179.97 233.47,174.60 233.57,173.27 233.67,176.10 233.76,182.84 233.86,192.96 233.95,205.60 234.05,219.74 234.15,234.20 234.24,247.80 234.34,259.41 234.43,268.08 234.53,273.10 234.63,274.04 234.72,270.85 234.82,263.76 234.91,253.38 235.01,240.56 235.10,226.34 235.20,211.91 235.30,198.45 235.39,187.07 235.49,178.70 235.58,174.05 235.68,173.48 235.78,177.04 235.87,184.45 235.97,195.10 236.06,208.09 236.16,222.38 236.26,236.77 236.35,250.09 236.45,261.23 236.54,269.28 236.64,273.58 236.74,273.77 236.83,269.83 236.93,262.10 237.02,251.20 237.12,238.04 237.21,223.70 237.31,209.36 237.41,196.20 237.50,185.30 237.60,177.57 237.69,173.63 237.79,173.82 237.89,178.12 237.98,186.17 238.08,197.31 238.17,210.63 238.27,225.02 238.37,239.31 238.46,252.30 238.56,262.95 238.65,270.36 238.75,273.92 238.85,273.35 238.94,268.70 239.04,260.33 239.13,248.95 239.23,235.49 239.33,221.06 239.42,206.84 239.52,194.02 239.61,183.64 239.71,176.55 239.80,173.36 239.90,174.30 240.00,179.32 240.09,187.99 240.19,199.60 240.28,213.20 240.38,227.66 240.48,241.80 240.57,254.44 240.67,264.56 240.76,271.30 240.86,274.13 240.96,272.80 241.05,267.43 241.15,258.46 241.24,246.63 241.34,232.90 241.44,218.42 241.53,204.37 241.63,191.92 241.72,182.08 241.82,175.67 241.91,173.22 242.01,174.92 242.11,180.64 242.20,189.91 242.30,201.96 242.39,215.80 242.49,230.29 242.59,244.24 242.68,256.50 242.78,266.05 242.87,272.12 242.97,274.20 243.07,272.12 243.16,266.05 243.26,256.50 243.35,244.24 243.45,230.29 243.55,215.80 243.64,201.96 243.74,189.91 243.83,180.64 243.93,174.92 244.03,173.22 244.12,175.67 244.22,182.08 244.31,191.92 244.41,204.37 244.50,218.42 244.60,232.90 244.70,246.63 244.79,258.46 244.89,267.43 244.98,272.80 245.08,274.13 245.18,271.30 245.27,264.56 245.37,254.44 245.46,241.80 245.56,227.66 245.66,213.20 245.75,199.60 245.85,187.99 245.94,179.32 246.04,174.30 246.14,173.36 246.23,176.55 246.33,183.64 246.42,194.02 246.52,206.84 246.61,221.06 246.71,235.49 246.81,248.95 246.90,260.33 247.00,268.70 247.09,273.35 247.19,273.92 247.29,270.36 247.38,262.95 247.48,252.30 247.57,239.31 247.67,225.02 247.77,210.63 247.86,197.31 247.96,186.17 248.05,178.12 248.15,173.82 248.25,173.63 248.34,177.57 248.44,185.30 248.53,196.20 248.63,209.36 248.73,223.70 248.82,238.04 248.92,251.20 249.01,262.10 249.11,269.83 249.20,273.77 249.30,273.58 249.40,269.28 249.49,261.23 249.59,250.09 249.68,236.77 249.78,222.38 249.88,208.09 249.97,195.10 250.07,184.45 250.16,177.04 250.26,173.48 250.36,174.05 250.45,178.70 250.55,187.07 250.64,198.45 250.74,211.91 250.84,226.34 250.93,240.56 251.03,253.38 251.12,263.76 251.22,270.85 251.31,274.04 251.41,273.10 251.51,268.08 251.60,259.41 251.70,247.80 251.79,234.20 251.89,219.74 251.99,205.60 252.08,192.96 252.18,182.84 252.27,176.10 252.37,173.27 252.47,174.60 252.56,179.97 252.66,188.94 252.75,200.77 252.85,214.50 252.95,228.98 253.04,243.03 253.14,255.48 253.23,265.32 253.33,271.73 253.42,274.18 253.52,272.48 253.62,266.76 253.71,257.49 253.81,245.44 253.90,231.60 254.00,217.11 254.10,203.16 254.19,190.90 254.29,181.35 254.38,175.28 254.48,173.20 254.58,177.04 254.67,187.99 254.77,204.37 254.86,223.70 254.96,243.03 255.06,259.41 255.15,270.36 255.25,274.20 255.34,270.36 255.44,259.41 255.54,243.03 255.63,223.70 255.73,204.37 255.82,187.99 255.92,177.04 256.01,173.20 256.11,177.04 256.21,187.99 256.30,204.37 256.40,223.70 256.49,243.03 256.59,259.41 256.69,270.36 256.78,274.20 256.88,270.36 256.97,259.41 257.07,243.03 257.17,223.70 257.26,204.37 257.36,187.99 257.45,177.04 257.55,173.20 257.65,177.04 257.74,187.99 257.84,204.37 257.93,223.70 258.03,243.03 258.12,259.41 258.22,270.36 258.32,274.20 258.41,270.36 258.51,259.41 258.60,243.03 258.70,223.70 258.80,204.37 258.89,187.99 258.99,177.04 259.08,173.20 259.18,177.04 259.28,187.99 259.37,204.37 259.47,223.70 259.56,243.03 259.66,259.41 259.76,270.36 259.85,274.20 259.95,270.36 260.04,259.41 260.14,243.03 260.24,223.70 260.33,204.37 260.43,187.99 260.52,177.04 260.62,173.20 260.71,177.04 260.81,187.99 260.91,204.37 261.00,223.70 261.10,243.03 261.19,259.41 261.29,270.36 261.39,274.20 261.48,270.36 261.58,259.41 261.67,243.03 261.77,223.70 261.87,204.37 261.96,187.99 262.06,177.04 262.15,173.20 262.25,177.04 262.35,187.99 262.44,204.37 262.54,223.70 262.63,243.03 262.73,259.41 262.82,270.36 262.92,274.20 263.02,270.36 263.11,259.41 263.21,243.03 263.30,223.70 263.40,204.37 263.50,187.99 263.59,177.04 263.69,173.20 263.78,177.04 263.88,187.99 263.98,204.37 264.07,223.70 264.17,243.03 264.26,259.41 264.36,270.36 264.46,274.20 264.55,270.36 264.65,259.41 264.74,243.03 264.84,223.70 264.93,204.37 265.03,187.99 265.13,177.04 265.22,173.20 265.32,177.04 265.41,187.99 265.51,204.37 265.61,223.70 265.70,243.03 265.80,259.41 265.89,270.36 265.99,274.20 266.09,270.36 266.18,259.41 266.28,243.03 266.37,223.70 266.47,204.37 266.57,187.99 266.66,177.04 266.76,173.20 266.85,177.04 266.95,187.99 267.05,204.37 267.14,223.70 267.24,243.03 267.33,259.41 267.43,270.36 267.52,274.20 267.62,270.36 267.72,259.41 267.81,243.03 267.91,223.70 268.00,204.37 268.10,187.99 268.20,177.04 268.29,173.20 268.39,177.04 268.48,187.99 268.58,204.37 268.68,223.70 268.77,243.03 268.87,259.41 268.96,270.36 269.06,274.20 269.16,270.36 269.25,259.41 269.35,243.03 269.44,223.70 269.54,204.37 269.63,187.99 269.73,177.04 269.83,173.20 269.92,177.04 270.02,187.99 270.11,204.37 270.21,223.70 270.31,243.03 270.40,259.41 270.50,270.36 270.59,274.20 270.69,270.36 270.79,259.41 270.88,243.03 270.98,223.70 271.07,204.37 271.17,187.99 271.27,177.04 271.36,173.20 271.46,177.04 271.55,187.99 271.65,204.37 271.75,223.70 271.84,243.03 271.94,259.41 272.03,270.36 272.13,274.20 272.22,270.36 272.32,259.41 272.42,243.03 272.51,223.70 272.61,204.37 272.70,187.99 272.80,177.04 272.90,173.20 272.99,177.04 273.09,187.99 273.18,204.37 273.28,223.70 273.38,243.03 273.47,259.41 273.57,270.36 273.66,274.20 273.76,270.36 273.86,259.41 273.95,243.03 274.05,223.70 274.14,204.37 274.24,187.99 274.33,177.04 274.43,173.20 274.53,177.04 274.62,187.99 274.72,204.37 274.81,223.70 274.91,243.03 275.01,259.41 275.10,270.36 275.20,274.20 275.29,270.36 275.39,259.41 275.49,243.03 275.58,223.70 275.68,204.37 275.77,187.99 275.87,177.04 275.97,173.20 276.06,177.04 276.16,187.99 276.25,204.37 276.35,223.70 276.44,243.03 276.54,259.41 276.64,270.36 276.73,274.20 276.83,270.36 276.92,259.41 277.02,243.03 277.12,223.70 277.21,204.37 277.31,187.99 277.40,177.04 277.50,173.20 277.60,175.28 277.69,181.35 277.79,190.90 277.88,203.16 277.98,217.11 278.08,231.60 278.17,245.44 278.27,257.49 278.36,266.76 278.46,272.48 278.56,274.18 278.65,271.73 278.75,265.32 278.84,255.48 278.94,243.03 279.03,228.98 279.13,214.50 279.23,200.77 279.32,188.94 279.42,179.97 279.51,174.60 279.61,173.27 279.71,176.10 279.80,182.84 279.90,192.96 279.99,205.60 280.09,219.74 280.19,234.20 280.28,247.80 280.38,259.41 280.47,268.08 280.57,273.10 280.67,274.04 280.76,270.85 280.86,263.76 280.95,253.38 281.05,240.56 281.14,226.34 281.24,211.91 281.34,198.45 281.43,187.07 281.53,178.70 281.62,174.05 281.72,173.48 281.82,177.04 281.91,184.45 282.01,195.10 282.10,208.09 282.20,222.38 282.30,236.77 282.39,250.09 282.49,261.23 282.58,269.28 282.68,273.58 282.78,273.77 282.87,269.83 282.97,262.10 283.06,251.20 283.16,238.04 283.25,223.70 283.35,209.36 283.45,196.20 283.54,185.30 283.64,177.57 283.73,173.63 283.83,173.82 283.93,178.12 284.02,186.17 284.12,197.31 284.21,210.63 284.31,225.02 284.41,239.31 284.50,252.30 284.60,262.95 284.69,270.36 284.79,273.92 284.89,273.35 284.98,268.70 285.08,260.33 285.17,248.95 285.27,235.49 285.37,221.06 285.46,206.84 285.56,194.02 285.65,183.64 285.75,176.55 285.84,173.36 285.94,174.30 286.04,179.32 286.13,187.99 286.23,199.60 286.32,213.20 286.42,227.66 286.52,241.80 286.61,254.44 286.71,264.56 286.80,271.30 286.90,274.13 287.00,272.80 287.09,267.43 287.19,258.46 287.28,246.63 287.38,232.90 287.48,218.42 287.57,204.37 287.67,191.92 287.76,182.08 287.86,175.67 287.95,173.22 288.05,174.92 288.15,180.64 288.24,189.91 288.34,201.96 288.43,215.80 288.53,230.29 288.63,244.24 288.72,256.50 288.82,266.05 288.91,272.12 289.01,274.20 289.11,272.12 289.20,266.05 289.30,256.50 289.39,244.24 289.49,230.29 289.59,215.80 289.68,201.96 289.78,189.91 289.87,180.64 289.97,174.92 290.07,173.22 290.16,175.67 290.26,182.08 290.35,191.92 290.45,204.37 290.54,218.42 290.64,232.90 290.74,246.63 290.83,258.46 290.93,267.43 291.02,272.80 291.12,274.13 291.22,271.30 291.31,264.56 291.41,254.44 291.50,241.80 291.60,227.66 291.70,213.20 291.79,199.60 291.89,187.99 291.98,179.32 292.08,174.30 292.18,173.36 292.27,176.55 292.37,183.64 292.46,194.02 292.56,206.84 292.65,221.06 292.75,235.49 292.85,248.95 292.94,260.33 293.04,268.70 293.13,273.35 293.23,273.92 293.33,270.36 293.42,262.95 293.52,252.30 293.61,239.31 293.71,225.02 293.81,210.63 293.90,197.31 294.00,186.17 294.09,178.12 294.19,173.82 294.29,173.63 294.38,177.57 294.48,185.30 294.57,196.20 294.67,209.36 294.76,223.70 294.86,238.04 294.96,251.20 295.05,262.10 295.15,269.83 295.24,273.77 295.34,273.58 295.44,269.28 295.53,261.23 295.63,250.09 295.72,236.77 295.82,222.38 295.92,208.09 296.01,195.10 296.11,184.45 296.20,177.04 296.30,173.48 296.40,174.05 296.49,178.70 296.59,187.07 296.68,198.45 296.78,211.91 296.88,226.34 296.97,240.56 297.07,253.38 297.16,263.76 297.26,270.85 297.35,274.04 297.45,273.10 297.55,268.08 297.64,259.41 297.74,247.80 297.83,234.20 297.93,219.74 298.03,205.60 298.12,192.96 298.22,182.84 298.31,176.10 298.41,173.27 298.51,174.60 298.60,179.97 298.70,188.94 298.79,200.77 298.89,214.50 298.99,228.98 299.08,243.03 299.18,255.48 299.27,265.32 299.37,271.73 299.46,274.18 299.56,272.48 299.66,266.76 299.75,257.49 299.85,245.44 299.94,231.60 300.04,217.11 300.14,203.16 300.23,190.90 300.33,181.35 300.42,175.28 300.52,173.20 300.62,175.28 300.71,181.35 300.81,190.90 300.90,203.16 301.00,217.11 301.10,231.60 301.19,245.44 301.29,257.49 301.38,266.76 301.48,272.48 301.58,274.18 301.67,271.73 301.77,265.32 301.86,255.48 301.96,243.03 302.05,228.98 302.15,214.50 302.25,200.77 302.34,188.94 302.44,179.97 302.53,174.60 302.63,173.27 302.73,176.10 302.82,182.84 302.92,192.96 303.01,205.60 303.11,219.74 303.21,234.20 303.30,247.80 303.40,259.41 303.49,268.08 303.59,273.10 303.69,274.04 303.78,270.85 303.88,263.76 303.97,253.38 304.07,240.56 304.16,226.34 304.26,211.91 304.36,198.45 304.45,187.07 304.55,178.70 304.64,174.05 304.74,173.48 304.84,177.04 304.93,184.45 305.03,195.10 305.12,208.09 305.22,222.38 305.32,236.77 305.41,250.09 305.51,261.23 305.60,269.28 305.70,273.58 305.80,273.77 305.89,269.83 305.99,262.10 306.08,251.20 306.18,238.04 306.28,223.70 306.37,209.36 306.47,196.20 306.56,185.30 306.66,177.57 306.75,173.63 306.85,173.82 306.95,178.12 307.04,186.17 307.14,197.31 307.23,210.63 307.33,225.02 307.43,239.31 307.52,252.30 307.62,262.95 307.71,270.36 307.81,273.92 307.91,273.35 308.00,268.70 308.10,260.33 308.19,248.95 308.29,235.49 308.39,221.06 308.48,206.84 308.58,194.02 308.67,183.64 308.77,176.55 308.86,173.36 308.96,174.30 309.06,179.32 309.15,187.99 309.25,199.60 309.34,213.20 309.44,227.66 309.54,241.80 309.63,254.44 309.73,264.56 309.82,271.30 309.92,274.13 310.02,272.80 310.11,267.43 310.21,258.46 310.30,246.63 310.40,232.90 310.50,218.42 310.59,204.37 310.69,191.92 310.78,182.08 310.88,175.67 310.97,173.22 311.07,174.92 311.17,180.64 311.26,189.91 311.36,201.96 311.45,215.80 311.55,230.29 311.65,244.24 311.74,256.50 311.84,266.05 311.93,272.12 312.03,274.20 312.13,272.12 312.22,266.05 312.32,256.50 312.41,244.24 312.51,230.29 312.61,215.80 312.70,201.96 312.80,189.91 312.89,180.64 312.99,174.92 313.09,173.22 313.18,175.67 313.28,182.08 313.37,191.92 313.47,204.37 313.56,218.42 313.66,232.90 313.76,246.63 313.85,258.46 313.95,267.43 314.04,272.80 314.14,274.13 314.24,271.30 314.33,264.56 314.43,254.44 314.52,241.80 314.62,227.66 314.72,213.20 314.81,199.60 314.91,187.99 315.00,179.32 315.10,174.30 315.20,173.36 315.29,176.55 315.39,183.64 315.48,194.02 315.58,206.84 315.67,221.06 315.77,235.49 315.87,248.95 315.96,260.33 316.06,268.70 316.15,273.35 316.25,273.92 316.35,270.36 316.44,262.95 316.54,252.30 316.63,239.31 316.73,225.02 316.83,210.63 316.92,197.31 317.02,186.17 317.11,178.12 317.21,173.82 317.31,173.63 317.40,177.57 317.50,185.30 317.59,196.20 317.69,209.36 317.79,223.70 317.88,238.04 317.98,251.20 318.07,262.10 318.17,269.83 318.26,273.77 318.36,273.58 318.46,269.28 318.55,261.23 318.65,250.09 318.74,236.77 318.84,222.38 318.94,208.09 319.03,195.10 319.13,184.45 319.22,177.04 319.32,173.48 319.42,174.05 319.51,178.70 319.61,187.07 319.70,198.45 319.80,211.91 319.90,226.34 319.99,240.56 320.09,253.38 320.18,263.76 320.28,270.85 320.37,274.04 320.47,273.10 320.57,268.08 320.66,259.41 320.76,247.80 320.85,234.20 320.95,219.74 321.05,205.60 321.14,192.96 321.24,182.84 321.33,176.10 321.43,173.27 321.53,174.60 321.62,179.97 321.72,188.94 321.81,200.77 321.91,214.50 322.01,228.98 322.10,243.03 322.20,255.48 322.29,265.32 322.39,271.73 322.48,274.18 322.58,272.48 322.68,266.76 322.77,257.49 322.87,245.44 322.96,231.60 323.06,217.11 323.16,203.16 323.25,190.90 323.35,181.35 323.44,175.28 323.54,173.20 323.64,174.05 323.73,176.55 323.83,180.64 323.92,186.17 324.02,192.96 324.12,200.77 324.21,209.36 324.31,218.42 324.40,227.66 324.50,236.77 324.60,245.44 324.69,253.38 324.79,260.33 324.88,266.05 324.98,270.36 325.07,273.10 325.17,274.18 325.27,273.58 325.36,271.30 325.46,267.43 325.55,262.10 325.65,255.48 325.75,247.80 325.84,239.31 325.94,230.29 326.03,221.06 326.13,211.91 326.23,203.16 326.32,195.10 326.42,187.99 326.51,182.08 326.61,177.57 326.71,174.60 326.80,173.27 326.90,173.63 326.99,175.67 327.09,179.32 327.18,184.45 327.28,190.90 327.38,198.45 327.47,206.84 327.57,215.80 327.66,225.02 327.76,234.20 327.86,243.03 327.95,251.20 328.05,258.46 328.14,264.56 328.24,269.28 328.34,272.48 328.43,274.04 328.53,273.92 328.62,272.12 328.72,268.70 328.82,263.76 328.91,257.49 329.01,250.09 329.10,241.80 329.20,232.90 329.30,223.70 329.39,214.50 329.49,205.60 329.58,197.31 329.68,189.91 329.77,183.64 329.87,178.70 329.97,175.28 330.06,173.48 330.16,173.36 330.25,174.92 330.35,178.12 330.45,182.84 330.54,188.94 330.64,196.20 330.73,204.37 330.83,213.20 330.93,222.38 331.02,231.60 331.12,240.56 331.21,248.95 331.31,256.50 331.41,262.95 331.50,268.08 331.60,271.73 331.69,273.77 331.79,274.13 331.88,272.80 331.98,269.83 332.08,265.32 332.17,259.41 332.27,252.30 332.36,244.24 332.46,235.49 332.56,226.34 332.65,217.11 332.75,208.09 332.84,199.60 332.94,191.92 333.04,185.30 333.13,179.97 333.23,176.10 333.32,173.82 333.42,173.22 333.52,174.30 333.61,177.04 333.71,181.35 333.80,187.07 333.90,194.02 333.99,201.96 334.09,210.63 334.19,219.74 334.28,228.98 334.38,238.04 334.47,246.63 334.57,254.44 334.67,261.23 334.76,266.76 334.86,270.85 334.95,273.35 335.05,274.20 335.15,273.35 335.24,270.85 335.34,266.76 335.43,261.23 335.53,254.44 335.63,246.63 335.72,238.04 335.82,228.98 335.91,219.74 336.01,210.63 336.11,201.96 336.20,194.02 336.30,187.07 336.39,181.35 336.49,177.04 336.58,174.30 336.68,173.22 336.78,173.82 336.87,176.10 336.97,179.97 337.06,185.30 337.16,191.92 337.26,199.60 337.35,208.09 337.45,217.11 337.54,226.34 337.64,235.49 337.74,244.24 337.83,252.30 337.93,259.41 338.02,265.32 338.12,269.83 338.22,272.80 338.31,274.13 338.41,273.77 338.50,271.73 338.60,268.08 338.69,262.95 338.79,256.50 338.89,248.95 338.98,240.56 339.08,231.60 339.17,222.38 339.27,213.20 339.37,204.37 339.46,196.20 339.56,188.94 339.65,182.84 339.75,178.12 339.85,174.92 339.94,173.36 340.04,173.48 340.13,175.28 340.23,178.70 340.33,183.64 340.42,189.91 340.52,197.31 340.61,205.60 340.71,214.50 340.81,223.70 340.90,232.90 341.00,241.80 341.09,250.09 341.19,257.49 341.28,263.76 341.38,268.70 341.48,272.12 341.57,273.92 341.67,274.04 341.76,272.48 341.86,269.28 341.96,264.56 342.05,258.46 342.15,251.20 342.24,243.03 342.34,234.20 342.44,225.02 342.53,215.80 342.63,206.84 342.72,198.45 342.82,190.90 342.92,184.45 343.01,179.32 343.11,175.67 343.20,173.63 343.30,173.27 343.39,174.60 343.49,177.57 343.59,182.08 343.68,187.99 343.78,195.10 343.87,203.16 343.97,211.91 344.07,221.06 344.16,230.29 344.26,239.31 344.35,247.80 344.45,255.48 344.55,262.10 344.64,267.43 344.74,271.30 344.83,273.58 344.93,274.18 345.03,273.10 345.12,270.36 345.22,266.05 345.31,260.33 345.41,253.38 345.50,245.44 345.60,236.77 345.70,227.66 345.79,218.42 345.89,209.36 345.98,200.77 346.08,192.96 346.18,186.17 346.27,180.64 346.37,176.55 346.46,174.05 346.56,173.20 346.66,175.28 346.75,181.35 346.85,190.90 346.94,203.16 347.04,217.11 347.14,231.60 347.23,245.44 347.33,257.49 347.42,266.76 347.52,272.48 347.62,274.18 347.71,271.73 347.81,265.32 347.90,255.48 348.00,243.03 348.09,228.98 348.19,214.50 348.29,200.77 348.38,188.94 348.48,179.97 348.57,174.60 348.67,173.27 348.77,176.10 348.86,182.84 348.96,192.96 349.05,205.60 349.15,219.74 349.25,234.20 349.34,247.80 349.44,259.41 349.53,268.08 349.63,273.10 349.73,274.04 349.82,270.85 349.92,263.76 350.01,253.38 350.11,240.56 350.20,226.34 350.30,211.91 350.40,198.45 350.49,187.07 350.59,178.70 350.68,174.05 350.78,173.48 350.88,177.04 350.97,184.45 351.07,195.10 351.16,208.09 351.26,222.38 351.36,236.77 351.45,250.09 351.55,261.23 351.64,269.28 351.74,273.58 351.84,273.77 351.93,269.83 352.03,262.10 352.12,251.20 352.22,238.04 352.32,223.70 352.41,209.36 352.51,196.20 352.60,185.30 352.70,177.57 352.79,173.63 352.89,173.82 352.99,178.12 353.08,186.17 353.18,197.31 353.27,210.63 353.37,225.02 353.47,239.31 353.56,252.30 353.66,262.95 353.75,270.36 353.85,273.92 353.95,273.35 354.04,268.70 354.14,260.33 354.23,248.95 354.33,235.49 354.43,221.06 354.52,206.84 354.62,194.02 354.71,183.64 354.81,176.55 354.90,173.36 355.00,174.30 355.10,179.32 355.19,187.99 355.29,199.60 355.38,213.20 355.48,227.66 355.58,241.80 355.67,254.44 355.77,264.56 355.86,271.30 355.96,274.13 356.06,272.80 356.15,267.43 356.25,258.46 356.34,246.63 356.44,232.90 356.54,218.42 356.63,204.37 356.73,191.92 356.82,182.08 356.92,175.67 357.01,173.22 357.11,174.92 357.21,180.64 357.30,189.91 357.40,201.96 357.49,215.80 357.59,230.29 357.69,244.24 357.78,256.50 357.88,266.05 357.97,272.12 358.07,274.20 358.17,272.12 358.26,266.05 358.36,256.50 358.45,244.24 358.55,230.29 358.65,215.80 358.74,201.96 358.84,189.91 358.93,180.64 359.03,174.92 359.13,173.22 359.22,175.67 359.32,182.08 359.41,191.92 359.51,204.37 359.60,218.42 359.70,232.90 359.80,246.63 359.89,258.46 359.99,267.43 360.08,272.80 360.18,274.13 360.28,271.30 360.37,264.56 360.47,254.44 360.56,241.80 360.66,227.66 360.76,213.20 360.85,199.60 360.95,187.99 361.04,179.32 361.14,174.30 361.24,173.36 361.33,176.55 361.43,183.64 361.52,194.02 361.62,206.84 361.71,221.06 361.81,235.49 361.91,248.95 362.00,260.33 362.10,268.70 362.19,273.35 362.29,273.92 362.39,270.36 362.48,262.95 362.58,252.30 362.67,239.31 362.77,225.02 362.87,210.63 362.96,197.31 363.06,186.17 363.15,178.12 363.25,173.82 363.35,173.63 363.44,177.57 363.54,185.30 363.63,196.20 363.73,209.36 363.82,223.70 363.92,238.04 364.02,251.20 364.11,262.10 364.21,269.83 364.30,273.77 364.40,273.58 364.50,269.28 364.59,261.23 364.69,250.09 364.78,236.77 364.88,222.38 364.98,208.09 365.07,195.10 365.17,184.45 365.26,177.04 365.36,173.48 365.46,174.05 365.55,178.70 365.65,187.07 365.74,198.45 365.84,211.91 365.94,226.34 366.03,240.56 366.13,253.38 366.22,263.76 366.32,270.85 366.41,274.04 366.51,273.10 366.61,268.08 366.70,259.41 366.80,247.80 366.89,234.20 366.99,219.74 367.09,205.60 367.18,192.96 367.28,182.84 367.37,176.10 367.47,173.27 367.57,174.60 367.66,179.97 367.76,188.94 367.85,200.77 367.95,214.50 368.05,228.98 368.14,243.03 368.24,255.48 368.33,265.32 368.43,271.73 368.52,274.18 368.62,272.48 368.72,266.76 368.81,257.49 368.91,245.44 369.00,231.60 369.10,217.11 369.20,203.16 369.29,190.90 369.39,181.35 369.48,175.28 369.58,173.20 369.68,177.04 369.77,187.99 369.87,204.37 369.96,223.70 370.06,243.03 370.16,259.41 370.25,270.36 370.35,274.20 370.44,270.36 370.54,259.41 370.64,243.03 370.73,223.70 370.83,204.37 370.92,187.99 371.02,177.04 371.11,173.20 371.21,177.04 371.31,187.99 371.40,204.37 371.50,223.70 371.59,243.03 371.69,259.41 371.79,270.36 371.88,274.20 371.98,270.36 372.07,259.41 372.17,243.03 372.27,223.70 372.36,204.37 372.46,187.99 372.55,177.04 372.65,173.20 372.75,177.04 372.84,187.99 372.94,204.37 373.03,223.70 373.13,243.03 373.22,259.41 373.32,270.36 373.42,274.20 373.51,270.36 373.61,259.41 373.70,243.03 373.80,223.70 373.90,204.37 373.99,187.99 374.09,177.04 374.18,173.20 374.28,177.04 374.38,187.99 374.47,204.37 374.57,223.70 374.66,243.03 374.76,259.41 374.86,270.36 374.95,274.20 375.05,270.36 375.14,259.41 375.24,243.03 375.34,223.70 375.43,204.37 375.53,187.99 375.62,177.04 375.72,173.20 375.81,177.04 375.91,187.99 376.01,204.37 376.10,223.70 376.20,243.03 376.29,259.41 376.39,270.36 376.49,274.20 376.58,270.36 376.68,259.41 376.77,243.03 376.87,223.70 376.97,204.37 377.06,187.99 377.16,177.04 377.25,173.20 377.35,177.04 377.45,187.99 377.54,204.37 377.64,223.70 377.73,243.03 377.83,259.41 377.92,270.36 378.02,274.20 378.12,270.36 378.21,259.41 378.31,243.03 378.40,223.70 378.50,204.37 378.60,187.99 378.69,177.04 378.79,173.20 378.88,177.04 378.98,187.99 379.08,204.37 379.17,223.70 379.27,243.03 379.36,259.41 379.46,270.36 379.56,274.20 379.65,270.36 379.75,259.41 379.84,243.03 379.94,223.70 380.03,204.37 380.13,187.99 380.23,177.04 380.32,173.20 380.42,177.04 380.51,187.99 380.61,204.37 380.71,223.70 380.80,243.03 380.90,259.41 380.99,270.36 381.09,274.20 381.19,270.36 381.28,259.41 381.38,243.03 381.47,223.70 381.57,204.37 381.67,187.99 381.76,177.04 381.86,173.20 381.95,177.04 382.05,187.99 382.15,204.37 382.24,223.70 382.34,243.03 382.43,259.41 382.53,270.36 382.62,274.20 382.72,270.36 382.82,259.41 382.91,243.03 383.01,223.70 383.10,204.37 383.20,187.99 383.30,177.04 383.39,173.20 383.49,177.04 383.58,187.99 383.68,204.37 383.78,223.70 383.87,243.03 383.97,259.41 384.06,270.36 384.16,274.20 384.26,270.36 384.35,259.41 384.45,243.03 384.54,223.70 384.64,204.37 384.73,187.99 384.83,177.04 384.93,173.20 385.02,177.04 385.12,187.99 385.21,204.37 385.31,223.70 385.41,243.03 385.50,259.41 385.60,270.36 385.69,274.20 385.79,270.36 385.89,259.41 385.98,243.03 386.08,223.70 386.17,204.37 386.27,187.99 386.37,177.04 386.46,173.20 386.56,177.04 386.65,187.99 386.75,204.37 386.85,223.70 386.94,243.03 387.04,259.41 387.13,270.36 387.23,274.20 387.32,270.36 387.42,259.41 387.52,243.03 387.61,223.70 387.71,204.37 387.80,187.99 387.90,177.04 388.00,173.20 388.09,177.04 388.19,187.99 388.28,204.37 388.38,223.70 388.48,243.03 388.57,259.41 388.67,270.36 388.76,274.20 388.86,270.36 388.96,259.41 389.05,243.03 389.15,223.70 389.24,204.37 389.34,187.99 389.43,177.04 389.53,173.20 389.63,177.04 389.72,187.99 389.82,204.37 389.91,223.70 390.01,243.03 390.11,259.41 390.20,270.36 390.30,274.20 390.39,270.36 390.49,259.41 390.59,243.03 390.68,223.70 390.78,204.37 390.87,187.99 390.97,177.04 391.07,173.20 391.16,177.04 391.26,187.99 391.35,204.37 391.45,223.70 391.54,243.03 391.64,259.41 391.74,270.36 391.83,274.20 391.93,270.36 392.02,259.41 392.12,243.03 392.22,223.70 392.31,204.37 392.41,187.99 392.50,177.04 392.60,177.04" fill="none" stroke="#0072bd" stroke-width="0.6" stroke-linejoin="round"/>
<rect x="47.3" y="173.2" width="345.30" height="101.00" fill="none" stroke="#707070" stroke-width="1.2"/>
<line x1="47.3" y1="64.85" x2="50.75" y2="64.85" stroke="#707070" stroke-width="1.2"/>
<line x1="392.6" y1="64.85" x2="389.15" y2="64.85" stroke="#707070" stroke-width="1.2"/>
<line x1="162.40" y1="115.3" x2="162.40" y2="111.89999999999999" stroke="#707070" stroke-width="1.2"/>
<line x1="162.40" y1="14.4" x2="162.40" y2="17.8" stroke="#707070" stroke-width="1.2"/>
<line x1="277.50" y1="115.3" x2="277.50" y2="111.89999999999999" stroke="#707070" stroke-width="1.2"/>
<line x1="277.50" y1="14.4" x2="277.50" y2="17.8" stroke="#707070" stroke-width="1.2"/>
<line x1="47.3" y1="223.70" x2="50.75" y2="223.70" stroke="#707070" stroke-width="1.2"/>
<line x1="392.6" y1="223.70" x2="389.15" y2="223.70" stroke="#707070" stroke-width="1.2"/>
<line x1="162.40" y1="274.2" x2="162.40" y2="270.8" stroke="#707070" stroke-width="1.2"/>
<line x1="162.40" y1="173.2" x2="162.40" y2="176.6" stroke="#707070" stroke-width="1.2"/>
<line x1="277.50" y1="274.2" x2="277.50" y2="270.8" stroke="#707070" stroke-width="1.2"/>
<line x1="277.50" y1="173.2" x2="277.50" y2="176.6" stroke="#707070" stroke-width="1.2"/>
<text x="220.3" y="11.0" font-size="14.0" text-anchor="middle" fill="#000" font-weight="bold">Bit Stream Signal</text>
<text x="42.4" y="18.75" font-size="12.7" text-anchor="end" fill="#262626">Bit 2</text>
<text x="42.4" y="68.75" font-size="12.7" text-anchor="end" fill="#262626">Bit 1</text>
<text x="42.4" y="119.6" font-size="12.7" text-anchor="end" fill="#262626">Bit 0</text>
<text x="47.3" y="132.0" font-size="12.7" text-anchor="middle" fill="#262626">0</text>
<text x="162.4" y="132.0" font-size="12.7" text-anchor="middle" fill="#262626">5</text>
<text x="277.5" y="132.0" font-size="12.7" text-anchor="middle" fill="#262626">10</text>
<text x="392.6" y="132.0" font-size="12.7" text-anchor="middle" fill="#262626">15</text>
<text x="220.3" y="148.75" font-size="14.0" text-anchor="middle" fill="#262626">Time (s)</text>
<text x="11.6" y="64.2" font-size="14.0" text-anchor="middle" fill="#262626" transform="rotate(-90 11.6 64.2)">Bit</text>
<text x="220.6" y="169.6" font-size="14.0" text-anchor="middle" fill="#000" font-weight="bold">Modulated FSK-SSVEP Signal</text>
<text x="41.2" y="177.8" font-size="12.7" text-anchor="end" fill="#262626">1</text>
<text x="42.6" y="228.3" font-size="12.7" text-anchor="end" fill="#262626">0</text>
<text x="41.1" y="279.0" font-size="12.7" text-anchor="end" fill="#262626">-1</text>
<text x="47.3" y="290.79999999999995" font-size="12.7" text-anchor="middle" fill="#262626">0</text>
<text x="162.4" y="290.79999999999995" font-size="12.7" text-anchor="middle" fill="#262626">5</text>
<text x="277.5" y="290.79999999999995" font-size="12.7" text-anchor="middle" fill="#262626">10</text>
<text x="392.6" y="290.79999999999995" font-size="12.7" text-anchor="middle" fill="#262626">15</text>
<text x="220.3" y="307.54999999999995" font-size="14.0" text-anchor="middle" fill="#262626">Time (s)</text>
<text x="26.5" y="223.9" font-size="14.3" text-anchor="middle" fill="#262626" transform="rotate(-90 26.5 223.9)">Voltage (V)</text>
</g></svg>
</body></html>
